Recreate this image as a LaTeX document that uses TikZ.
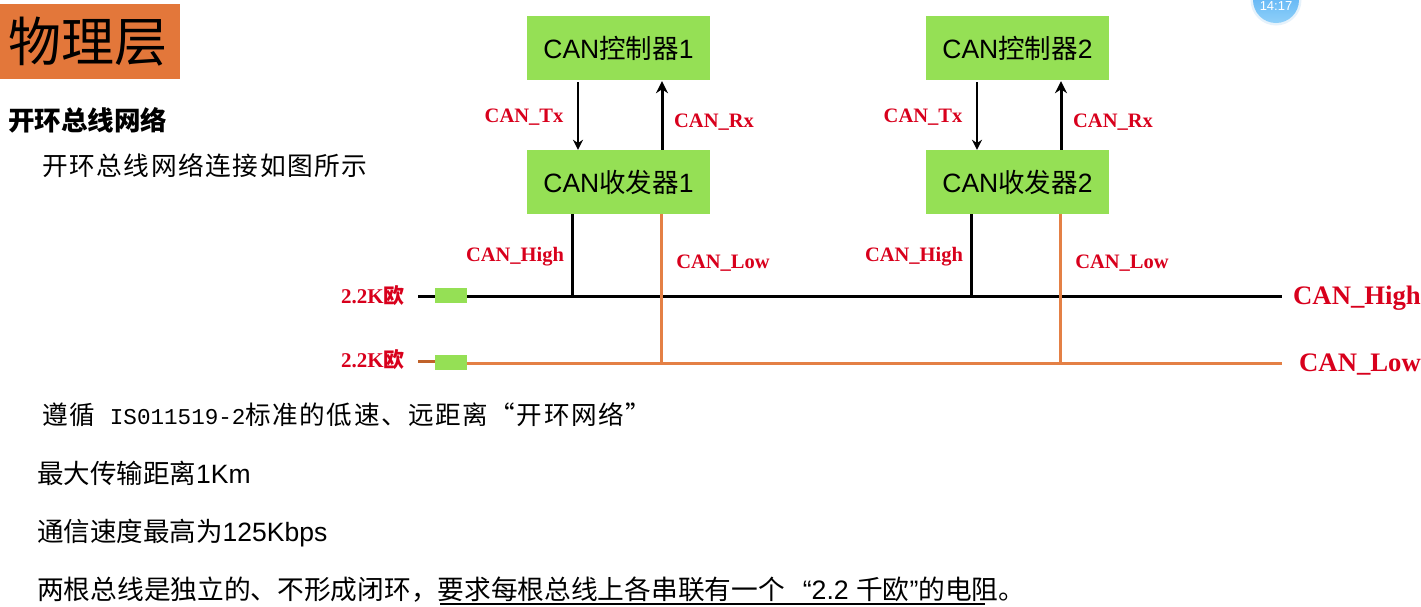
\documentclass[tikz,border=0pt]{standalone}
\usepackage{fontspec}
\usetikzlibrary{arrows.meta,calc}
\setmainfont{Liberation Sans}
\setmonofont{Liberation Mono}
\newfontfamily\cjk{Noto Sans CJK SC}
\newfontfamily\cjkwide[LetterSpace=6]{Noto Sans CJK SC}
\newfontfamily\serifb[BoldFont=Liberation Serif Bold]{Liberation Serif}
\newcommand{\fs}[1]{\fontsize{#1}{#1}\selectfont}
\definecolor{boxgreen}{HTML}{95E055}
\definecolor{titleorange}{HTML}{E3773A}
\definecolor{busorange}{HTML}{E48045}
\definecolor{stuborange}{HTML}{C0622A}
\definecolor{labred}{HTML}{D8001C}
\definecolor{bubbletop}{HTML}{45A5F2}
\definecolor{bubblelow}{HTML}{8FD0F9}
\definecolor{halo}{HTML}{E6F2FB}
\tikzset{
  canbox/.style={fill=boxgreen,minimum width=183pt,minimum height=64pt,inner sep=0pt,font=\fs{26.5}},
  res/.style={fill=boxgreen,minimum width=32pt,minimum height=15pt,inner sep=0pt},
  lab/.style={text=labred,inner sep=0pt,font=\serifb\bfseries\fs{20.5}},
  buslab/.style={text=labred,inner sep=0pt,anchor=west,font=\serifb\bfseries\fs{26.7}},
  ohm/.style={text=labred,inner sep=0pt,font=\serifb\bfseries\fs{21}},
  txt/.style={inner sep=0pt,anchor=west},
  black bus/.style={line width=3pt,black},
  orange bus/.style={line width=3pt,busorange},
  txa/.style={line width=2pt,-{Stealth[length=10pt,width=10pt]}},
  rxa/.style={line width=3pt,-{Stealth[length=12pt,width=12pt]}},
}
\begin{document}
\begin{tikzpicture}[x=1pt,y=-1pt]
\useasboundingbox (0,0) rectangle (1421,606);
\clip (0,0) rectangle (1421,606);
% bubble
\fill[halo] (1276,0) circle (25.5);
\shade[top color=bubbletop,bottom color=bubblelow] (1276,0) circle (23);
\node[inner sep=0pt,text=white,font=\fs{13}] (clock) at (1276,6) {14:17};
% title
\node[fill=titleorange,minimum width=180pt,minimum height=75pt,inner sep=0pt,font=\cjk\fs{53}] (title) at (90,41.5) {\hspace*{-5pt}物理层};
\node[txt,font=\cjk\bfseries\fs{26.5}] (h) at (8,120.5) {开环总线网络};
\node[txt,font=\cjkwide\fs{25.7}] (p1) at (42,165.5) {开环总线网络连接如图所示};
% boxes
\node[canbox] (c1) at (618.5,48) {CAN{\cjk 控制器}1};
\node[canbox] (t1) at (618.5,182) {CAN{\cjk 收发器}1};
\node[canbox] (c2) at (1017.5,48) {CAN{\cjk 控制器}2};
\node[canbox] (t2) at (1017.5,182) {CAN{\cjk 收发器}2};
% resistors and bus ends
\node[res] (r1) at (451,295.5) {};
\node[res] (r2) at (451,362.5) {};
\coordinate (hl) at (418,296);
\coordinate (hr) at (1282,296);
\coordinate (ll) at (418,361);
\coordinate (lr) at (1282,363);
\coordinate (lrs) at (467,363);
% buses
\draw[black bus] (r1.east |- hr) -- (hr);
\draw[black bus] (hl) -- (r1.west |- hl);
\draw[orange bus] (lrs) -- (lr);
\draw[line width=3pt,stuborange] (ll) -- (r2.west |- ll);
% vertical drops
\coordinate (h1) at (572,296);
\coordinate (l1) at (661.5,363);
\coordinate (h2) at (971,296);
\coordinate (l2) at (1060.5,363);
\draw[black bus] (h1 |- t1.south) -- (h1);
\draw[black bus] (h2 |- t2.south) -- (h2);
\draw[orange bus] (l1 |- t1.south) -- (l1);
\draw[orange bus] (l2 |- t2.south) -- (l2);
% arrows
\coordinate (x1) at (578,0);
\coordinate (y1) at (662,0);
\coordinate (x2) at (977,0);
\coordinate (y2) at (1061,0);
\draw[txa] ($(x1 |- c1.south)+(0,2)$) -- (x1 |- t1.north);
\draw[rxa] (y1 |- t1.north) -- ($(y1 |- c1.south)+(0,1)$);
\draw[txa] ($(x2 |- c2.south)+(0,2)$) -- (x2 |- t2.north);
\draw[rxa] (y2 |- t2.north) -- ($(y2 |- c2.south)+(0,1)$);
% labels
\node[lab] (ltx1) at (524,117) {CAN\_Tx};
\node[lab] (lrx1) at (714,122) {CAN\_Rx};
\node[lab] (ltx2) at (923,117) {CAN\_Tx};
\node[lab] (lrx2) at (1113,122) {CAN\_Rx};
\node[lab] (lh1) at (515,257) {CAN\_High};
\node[lab] (ll1) at (723,263) {CAN\_Low};
\node[lab] (lh2) at (914,257) {CAN\_High};
\node[lab] (ll2) at (1122,263) {CAN\_Low};
\node[ohm] (o1) at (373,296) {2.2K{\cjk\bfseries 欧}};
\node[ohm] (o2) at (373,360) {2.2K{\cjk\bfseries 欧}};
\node[buslab] (bh) at (1293,298) {CAN\_High};
\node[buslab] (bl) at (1299,365) {CAN\_Low};
% bottom text
\node[txt,font=\cjkwide\fs{25.6}] (p2) at (42,415) {遵循\hspace{15pt}{\ttfamily\fs{22.6}IS011519-2}标准的低速、远距离“开环网络”};
\node[txt,font=\fs{26.5}] (p3) at (37,473) {{\cjk 最大传输距离}1Km};
\node[txt,font=\fs{26.5}] (p4) at (37,533) {{\cjk 通信速度最高为}125Kbps};
\node[txt,font=\fs{26.7}] (p5) at (37,590) {{\cjk 两根总线是独立的、不形成闭环，要求每根总线上各串联有一个}\hspace{18pt}“2.2 {\cjk 千欧}”{\cjk 的电阻。}};
\coordinate (ua) at (440,604);
\coordinate (ub) at (985,604);
\draw[line width=1.5pt] (ua) -- (ub);
\end{tikzpicture}
\end{document}
